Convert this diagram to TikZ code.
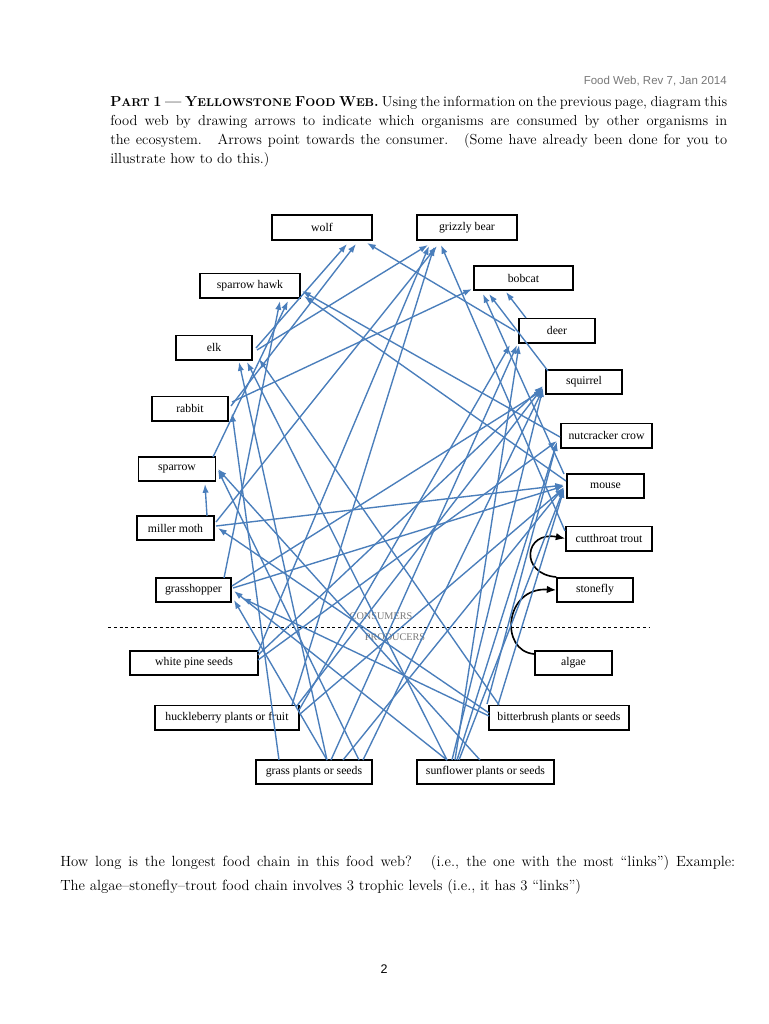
\documentclass[tikz,border=0pt]{standalone}
\usepackage{fontspec}
\newfontfamily\boxfont{Liberation Serif}
\newfontfamily\hdrfont{Liberation Sans}
\usetikzlibrary{calc,arrows.meta}
\definecolor{webblue}{RGB}{74,126,187}
\definecolor{hdrgray}{RGB}{120,120,120}
\newcommand\webedge[6]{\draw[web] ($(#1)+(#2,#3)$) -- ($(#4)+(#5,#6)$);}
\begin{document}
\begin{tikzpicture}[x=0.8pt,y=-0.8pt,
  box/.style={draw=black,line width=1.3pt,minimum height=19.5pt,inner sep=0pt,
    font=\boxfont\fontsize{9.4}{10}\selectfont},
  bw/.style={minimum width={#1*0.8pt}},
  web/.style={draw=webblue,line width=1.1pt,-{Latex[length=7pt,width=5pt]}},
  blk/.style={draw=black,line width=1.3pt,-{Latex[length=7.5pt,width=6pt]}},
  body/.style={anchor=base west,inner sep=0pt,font=\fontsize{11.6}{14}\selectfont},
  lvl/.style={inner sep=0pt,text=hdrgray,font=\boxfont\fontsize{8.2}{9}\selectfont}]
\fill[white] (0,0) rectangle (768,1024);
\useasboundingbox (0,0) rectangle (768,1024);
% header and text
\node[anchor=base east,inner sep=0pt,text=hdrgray,font=\hdrfont\fontsize{9.2}{10}\selectfont] (hdr) at (727,85) {Food Web, Rev 7, Jan 2014};
\node[body] (l1) at (110,107) {\makebox[493.6pt][s]{\textbf{P{\small ART} 1 --- Y{\small ELLOWSTONE} F{\small OOD} W{\small EB}.} Using the information on the previous page, diagram this}};
\node[body] (l2) at (110,126) {\makebox[493.6pt][s]{food web by drawing arrows to indicate which organisms are consumed by other organisms in}};
\node[body] (l3) at (110,145) {\makebox[493.6pt][s]{the ecosystem. \ Arrows point towards the consumer. \ (Some have already been done for you to}};
\node[body] (l4) at (110,164) {illustrate how to do this.)};
\node[body,font=\fontsize{11.8}{14}\selectfont] (q1) at (60,866) {\makebox[540pt][s]{How long is the longest food chain in this food web? \ (i.e., the one with the most ``links'') Example:}};
\node[body,font=\fontsize{11.8}{14}\selectfont] (q2) at (60,890) {The algae--stonefly--trout food chain involves 3 trophic levels (i.e., it has 3 ``links'')};
\node[inner sep=0pt,font=\hdrfont\fontsize{10}{12}\selectfont] (pg) at (384,969) {2};
% divider
\coordinate (dl) at (108,627);
\coordinate (dr) at (650,627);
\draw[black,line width=0.6pt,dash pattern=on 2.4pt off 2.2pt] (dl) -- (dr);
\node[lvl] (cons) at (381,616) {CONSUMERS};
\node[lvl] (prod) at (395,637) {PRODUCERS};
% boxes
\node[box,bw=100] (wolf) at (322,227.5) {wolf};
\node[box,bw=100] (grizzly) at (467,227.5) {grizzly bear};
\node[box,bw=99] (bobcat) at (523.5,278) {bobcat};
\node[box,bw=100] (hawk) at (250,285.5) {sparrow hawk};
\node[box,bw=76] (deer) at (557,330.5) {deer};
\node[box,bw=76] (elk) at (214,347.5) {elk};
\node[box,bw=76] (squirrel) at (584,382) {squirrel};
\node[box,bw=76] (rabbit) at (190,408.5) {rabbit};
\node[box,bw=91] (crow) at (606.5,435.5) {nutcracker crow};
\node[box,bw=77] (sparrow) at (177,469) {sparrow};
\node[box,bw=77] (mouse) at (605.5,486) {mouse};
\node[box,bw=77] (moth) at (175.5,528) {miller moth};
\node[box,bw=86] (trout) at (609,538.5) {cutthroat trout};
\node[box,bw=76] (stonefly) at (595,590) {stonefly};
\node[box,bw=75] (grasshopper) at (193.5,590) {grasshopper};
\node[box,bw=128] (whitepine) at (194,663) {white pine seeds};
\node[box,bw=77] (algae) at (573.5,663) {algae};
\node[box,bw=144] (huckle) at (227,717.5) {huckleberry plants or fruit};
\node[box,bw=140] (bitter) at (559,717.5) {bitterbrush plants or seeds};
\node[box,bw=116] (grass) at (314,772) {grass plants or seeds};
\node[box,bw=137] (sunflower) at (485.5,772) {sunflower plants or seeds};
% black example arrows
\draw[blk] (stonefly.north west) .. controls ($(stonefly.north west)+(-37,-3)$) and ($(trout.west)+(-41,-8)$) .. (trout.west);
\draw[blk] ($(algae.north west)+(0,4)$) .. controls ($(algae.north west)+(-35,1)$) and ($(stonefly.west)+(-52,-3)$) .. (stonefly.west);
% blue web
\webedge{elk}{42}{0.5}{wolf}{25}{16.5}
\webedge{rabbit}{41}{-2.5}{wolf}{34}{16.5}
\webedge{deer}{-42}{0.5}{wolf}{45}{15.5}
\webedge{elk}{43}{2.5}{grizzly}{-39}{17.5}
\webedge{whitepine}{64}{-11}{grizzly}{-38}{18.5}
\webedge{huckle}{65}{-12.5}{grizzly}{-33}{19.5}
\webedge{moth}{40.5}{-6}{grizzly}{-30}{18.5}
\webedge{trout}{-44}{-7.5}{grizzly}{-26}{17.5}
\webedge{rabbit}{42}{-6.5}{bobcat}{-51.5}{11}
\webedge{mouse}{-41.5}{-12}{bobcat}{-40.5}{16}
\webedge{squirrel}{-36}{-11}{bobcat}{-34.5}{16}
\webedge{deer}{-31}{-12.5}{bobcat}{-17.5}{14}
\webedge{crow}{-46.5}{1.5}{hawk}{52}{5.5}
\webedge{mouse}{-39.5}{-5}{hawk}{54}{10.5}
\webedge{sparrow}{36}{-12}{hawk}{38}{15.5}
\webedge{grasshopper}{30.5}{-12}{hawk}{30}{15.5}
\webedge{grass}{13}{-12}{elk}{25}{14.5}
\webedge{sunflower}{-38.5}{-12}{elk}{33}{14.5}
\webedge{bitter}{-60}{-12.5}{elk}{45}{11.5}
\webedge{huckle}{72}{-7.5}{deer}{-47}{14.5}
\webedge{grass}{17}{-12}{deer}{-40}{14.5}
\webedge{sunflower}{-30.5}{-12}{deer}{-38}{14.5}
\webedge{grass}{-35}{-12}{rabbit}{42}{4.5}
\webedge{whitepine}{64}{-8}{squirrel}{-41}{4}
\webedge{huckle}{69}{-10.5}{squirrel}{-41}{5}
\webedge{sunflower}{-33.5}{-12}{squirrel}{-41}{6}
\webedge{grass}{49}{-12}{squirrel}{-41}{7}
\webedge{grasshopper}{38.5}{-4}{squirrel}{-41}{8}
\webedge{whitepine}{64}{-3}{crow}{-49.5}{5.5}
\webedge{sunflower}{-28.5}{-12}{crow}{-49.5}{6.5}
\webedge{bitter}{-72}{-13.5}{crow}{-49.5}{6.5}
\webedge{moth}{40.5}{-2}{mouse}{-41.5}{-1}
\webedge{grasshopper}{39.5}{-2}{mouse}{-41.5}{0}
\webedge{grass}{29}{-12}{mouse}{-41.5}{1}
\webedge{sunflower}{-26.5}{-12}{mouse}{-41.5}{2}
\webedge{bitter}{-61}{-12.5}{mouse}{-41.5}{3}
\webedge{huckle}{73}{-3.5}{mouse}{-41.5}{2}
\webedge{moth}{31.5}{-12}{sparrow}{28}{15}
\webedge{grass}{45}{-12}{sparrow}{41}{1}
\webedge{sunflower}{-5.5}{-12}{sparrow}{41}{0}
\webedge{bitter}{-70}{-4.5}{moth}{42.5}{0}
\webedge{bitter}{-70}{-1.5}{grasshopper}{48.5}{8}
\webedge{sunflower}{-38.5}{-12}{grasshopper}{40.5}{1}
\webedge{grass}{13}{-12}{grasshopper}{40.5}{10}
\end{tikzpicture}
\end{document}
